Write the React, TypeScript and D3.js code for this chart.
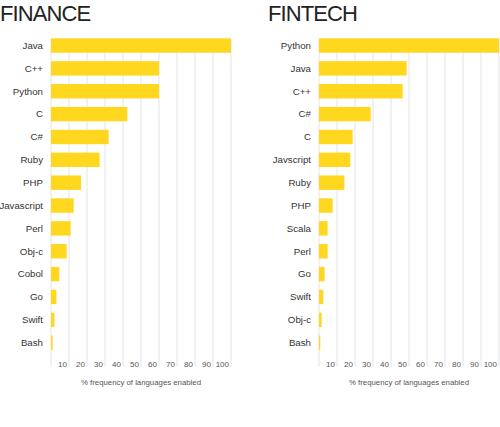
import React from "react";
import * as d3 from "d3";

// finance panel
const financeLangs = ["Java", "C++", "Python", "C", "C#", "Ruby", "PHP", "Javascript", "Perl", "Obj-c", "Cobol", "Go", "Swift", "Bash"];
const financeValues = [100, 60, 60, 42.4, 32, 27, 16.7, 12.6, 10.9, 8.7, 4.6, 3, 1.9, 0.9];

// fintech panel
const fintechLangs = ["Python", "Java", "C++", "C#", "C", "Javscript", "Ruby", "PHP", "Scala", "Perl", "Go", "Swift", "Obj-c", "Bash"];
const fintechValues = [100, 48.7, 46.5, 28.7, 18.7, 17.4, 14.1, 7.6, 4.8, 4.8, 3.1, 2.4, 1.5, 0.7];

const tickValues = [10, 20, 30, 40, 50, 60, 70, 80, 90, 100];
const axisTitle = "% frequency of languages enabled";

const W = 500;
const H = 427;
const BAR = "#FFD71E";
const FONT = "'Liberation Sans', Arial, Helvetica, sans-serif";

interface PanelProps {
  title: string;
  langs: string[];
  values: number[];
  x0: number;
  titleX: number;
}

const Panel = ({ title, langs, values, x0, titleX }: PanelProps) => {
  const x = d3.scaleLinear().domain([0, 100]).range([x0, x0 + 180]);
  const y = d3
    .scaleBand<string>()
    .domain(langs)
    .range([34.1, 354.1])
    .paddingInner(0.37)
    .paddingOuter(0.185);

  const gridTop = y(langs[0])!;
  const gridBottom = 367;

  return (
    <g>
      <text x={titleX} y={21.3} fontSize={22} letterSpacing={-0.9} fill="#222" fontFamily={FONT}>
        {title}
      </text>
      {[0, ...tickValues].map((t) => (
        <line key={t} x1={x(t)} x2={x(t)} y1={gridTop} y2={gridBottom} stroke="#e4e4e4" strokeWidth={1} />
      ))}
      {langs.map((l, i) => (
        <rect key={l} x={x(0)} y={y(l)} width={x(values[i]) - x(0)} height={y.bandwidth()} fill={BAR} />
      ))}
      {langs.map((l) => (
        <text
          key={"l" + l}
          x={x0 - 8}
          y={y(l)! + y.bandwidth() / 2}
          dy="0.35em"
          textAnchor="end"
          fontSize={9.7}
          fill="#333"
          fontFamily={FONT}
        >
          {l}
        </text>
      ))}
      {tickValues.map((t) => (
        <text
          key={"t" + t}
          x={x(t) - 2}
          y={364}
          dy="0.35em"
          textAnchor="end"
          fontSize={8}
          fill="#555"
          fontFamily={FONT}
        >
          {t}
        </text>
      ))}
      <text
        x={(x(0) + x(100)) / 2}
        y={382}
        dy="0.35em"
        textAnchor="middle"
        fontSize={7.8}
        fill="#555"
        fontFamily={FONT}
      >
        {axisTitle}
      </text>
    </g>
  );
};

export default function App() {
  return (
    <svg
      width={W}
      height={H}
      style={{ position: "absolute", left: 0, top: 0, background: "#fff" }}
    >
      <Panel title="FINANCE" langs={financeLangs} values={financeValues} x0={51} titleX={0} />
      <Panel title="FINTECH" langs={fintechLangs} values={fintechValues} x0={319} titleX={268} />
    </svg>
  );
}
